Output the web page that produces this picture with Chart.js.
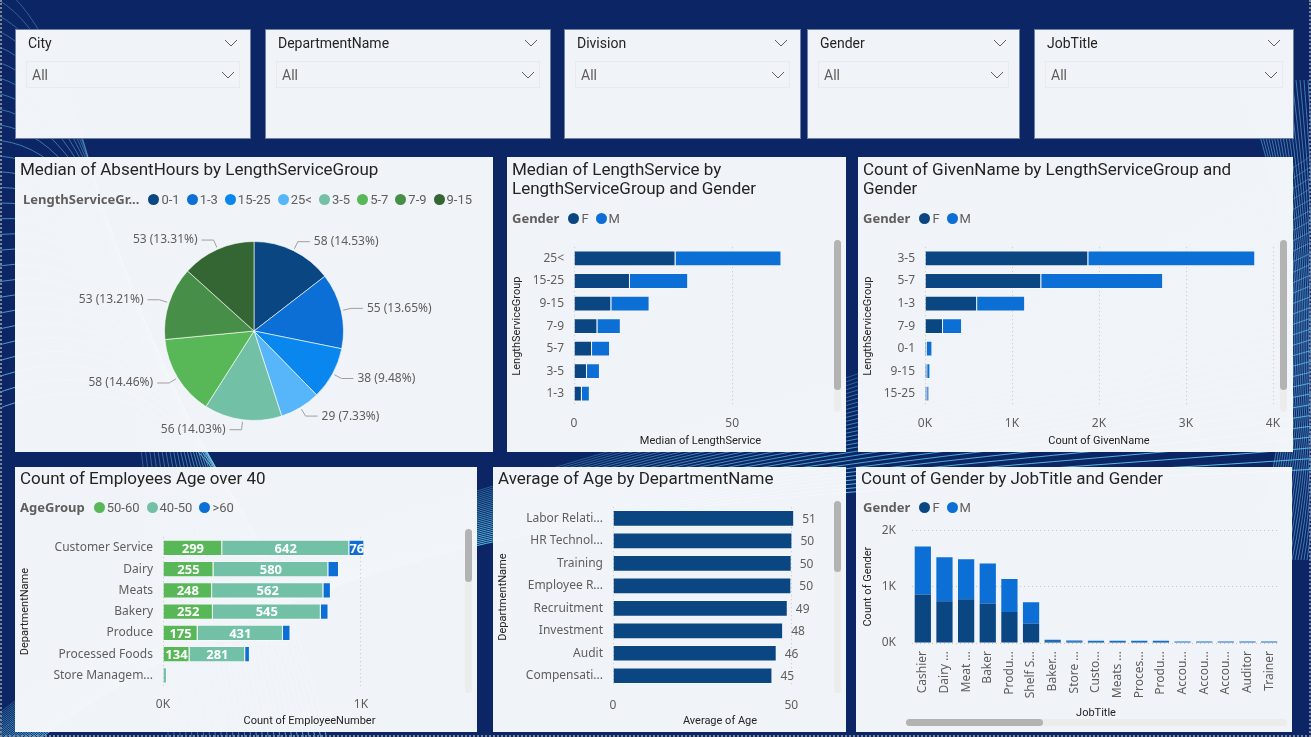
<!DOCTYPE html>
<html>
<head>
<meta charset="utf-8">
<title>HR Dashboard</title>
<script src="https://cdn.jsdelivr.net/npm/chart.js@4.4.1/dist/chart.umd.min.js"></script>
<style>
  body { margin: 0; width: 1311px; height: 737px; overflow: hidden; background: #0b2565; font-family: 'Segoe UI', 'Noto Sans', sans-serif; }
  #page { position: absolute; left: 0; top: 0; width: 1311px; height: 737px; }
  #frame { position: absolute; left: 0; top: 0; width: 1311px; height: 737px; box-sizing: border-box; pointer-events: none;
           border-left: 2px dotted #7d8596; border-right: 2px dotted #7d8596; border-bottom: 2px dotted #7d8596; }
  #bg { position: absolute; left: 0; top: 0; }
  .panel { position: absolute; background: rgba(248, 250, 252, 0.97); box-sizing: border-box; }
  .slicer { border: 1px solid #6f80a6; }
  .sl-t { position: absolute; left: 12px; top: 5px; font-family: Roboto, sans-serif; font-size: 14px; color: #252423; }
  .sl-box { position: absolute; left: 10px; right: 10px; top: 31px; height: 27px; border: 1px solid #e8eaed; box-sizing: border-box;
            font-family: Roboto, sans-serif; font-size: 14px; color: #605e5c; line-height: 26px; padding-left: 5px; }
  .chev { position: absolute; }
  .title { position: absolute; left: 5px; font-family: Roboto, sans-serif; font-size: 17px; color: #252423; line-height: 19px; white-space: nowrap; }
  .legend { position: absolute; font-size: 13px; color: #605e5c; display: flex; align-items: center; white-space: nowrap; height: 16px; font-family: Roboto, sans-serif; }
  .legend b { color: #605e5c; margin-right: 2px; font-family: 'Segoe UI', 'Noto Sans', sans-serif; }
  .legend i { display: inline-block; width: 11px; height: 11px; border-radius: 50%; margin: 0 2px 0 7px; }
  canvas.c { position: absolute; }
  .track { position: absolute; background: #ececec; border-radius: 4px; }
  .thumb { position: absolute; background: #b3b3b3; border-radius: 4px; }
</style>
</head>
<body>
<div id="page">
  <canvas id="bg" width="1311" height="737"></canvas>
</div>
<div id="frame"></div>
<script>
// ---- data ----
const lsGroups = ['0-1', '1-3', '15-25', '25<', '3-5', '5-7', '7-9', '9-15'];
const absentHours = [58.19, 54.67, 37.97, 29.36, 56.19, 57.91, 52.91, 53.31];

const medianGroups = ['25<', '15-25', '9-15', '7-9', '5-7', '3-5', '1-3'];
const medianF = [32.1, 17.7, 11.8, 7.4, 5.7, 4.1, 2.5];
const medianM = [33.5, 18.4, 12.1, 7.4, 5.7, 4.1, 2.5];
const medianTicks = [0, 50];

const countGroups = ['3-5', '5-7', '1-3', '7-9', '0-1', '9-15', '15-25'];
const countF = [1877, 1336, 599, 207, 20, 25, 25];
const countM = [1919, 1401, 552, 219, 65, 37, 25];
const countTicks = [0, 1000, 2000, 3000, 4000];

const departments40 = ['Customer Service', 'Dairy', 'Meats', 'Bakery', 'Produce', 'Processed Foods', 'Store Management'];
const age50to60 = [299, 255, 248, 252, 175, 134, 0];
const age40to50 = [642, 580, 562, 545, 431, 281, 20];
const ageOver60 = [76, 54, 38, 39, 38, 24, 0];
const employeeTicks = [0, 1000];

const ageDepartments = ['Labor Relations', 'HR Technology', 'Training', 'Employee Records', 'Recruitment', 'Investment', 'Audit', 'Compensation'];
const avgAge = [50.8, 50.3, 50.1, 50.0, 49.0, 47.7, 45.9, 44.7];
const avgAgeTicks = [0, 50];

const jobTitles = ['Cashier', 'Dairy Person', 'Meat Cutter', 'Baker', 'Produce Clerk', 'Shelf Stocker', 'Bakery Manager', 'Store Manager',
  'Customer Service Manager', 'Meats Manager', 'Processed Foods Manager', 'Produce Manager', 'Accounting Clerk',
  'Accounts Payable Clerk', 'Accounts Receivable Clerk', 'Auditor', 'Trainer'];
const jobF = [859, 740, 776, 699, 550, 344, 30, 20, 18, 18, 18, 18, 13, 13, 13, 13, 13];
const jobM = [852, 781, 710, 710, 586, 378, 26, 26, 22, 22, 22, 22, 15, 15, 15, 15, 15];
const genderTicks = [0, 1000, 2000];

// ---- look ----
const FONT = "'Segoe UI', 'Noto Sans', sans-serif";
const TFONT = "Roboto, sans-serif";
const pieColors = ['#0a4682', '#0c6fd6', '#0a87ef', '#57b5f9', '#72c0a5', '#58b858', '#478f48', '#336633'];
const colF = '#0a4682', colM = '#0c6fd6';
const col5060 = '#58b858', col4050 = '#72c0a5', col60 = '#0c6fd6';
const tickColor = '#605e5c';

Chart.defaults.font.family = FONT;
Chart.defaults.animation = false;
Chart.defaults.plugins.legend.display = false;
Chart.defaults.plugins.tooltip.enabled = false;

// ---- background decoration ----
const g = document.getElementById('bg').getContext('2d');
g.fillStyle = '#0b2565';
g.fillRect(0, 0, 1311, 737);
g.lineWidth = 1;
for (let i = 0; i < 28; i++) {
  g.strokeStyle = 'rgba(120, 205, 235, ' + (0.35 + i * 0.015) + ')';
  g.beginPath();
  g.moveTo(-10, -20 + i * 16);
  g.quadraticCurveTo(120 + i * 4, 40 + i * 10, 170 + i * 6, 760);
  g.stroke();
}
for (let i = 0; i < 30; i++) {
  g.strokeStyle = 'rgba(95, 200, 235, ' + (0.35 + i * 0.02) + ')';
  g.beginPath();
  g.moveTo(-10, 720 + i * 2);
  g.bezierCurveTo(350, 440 + i * 1.2, 850, 470 + i * 0.8, 1320, 150 + i * 11);
  g.stroke();
}
for (let i = 0; i < 22; i++) {
  g.strokeStyle = 'rgba(110, 190, 235, 0.55)';
  g.beginPath();
  g.moveTo(1240 + i * 4, 80);
  g.quadraticCurveTo(1330, 300 + i * 6, 1250 + i * 3, 560);
  g.stroke();
}

// ---- helpers ----
const page = document.getElementById('page');
const measure = document.createElement('canvas').getContext('2d');
// truncation is judged at the width of the original UI font
function fit(text, maxPx) {
  measure.font = '11.3px ' + FONT;
  if (measure.measureText(text).width <= maxPx) return text;
  let s = text;
  while (s.length > 1 && measure.measureText(s + '...').width > maxPx) s = s.slice(0, -1);
  return s + '...';
}
function el(tag, cls, style, html) {
  const e = document.createElement(tag);
  if (cls) e.className = cls;
  if (style) e.style.cssText = style;
  if (html) e.innerHTML = html;
  return e;
}
function chevron(style) {
  return '<svg class="chev" style="' + style + '" width="14" height="8"><polyline points="1,1 7,7 13,1" fill="none" stroke="#605e5c" stroke-width="1"/></svg>';
}
function panel(x, y, w, h) {
  const p = el('div', 'panel', 'left:' + x + 'px;top:' + y + 'px;width:' + w + 'px;height:' + h + 'px');
  page.appendChild(p);
  return p;
}
function legend(parent, x, y, title, names, colors) {
  let html = '<b>' + title + '</b>';
  names.forEach((n, i) => { html += '<i style="background:' + colors[i] + '"></i>' + n; });
  parent.appendChild(el('div', 'legend', 'left:' + x + 'px;top:' + (y - 8) + 'px', html));
}
function canvas(x, y, w, h) {
  const c = el('canvas', 'c', 'left:' + x + 'px;top:' + y + 'px');
  c.width = w; c.height = h;
  page.appendChild(c);
  return c;
}
function scrollV(x, y1, y2, t2) {
  page.appendChild(el('div', 'track', 'left:' + x + 'px;top:' + y1 + 'px;width:7px;height:' + (y2 - y1) + 'px'));
  page.appendChild(el('div', 'thumb', 'left:' + x + 'px;top:' + y1 + 'px;width:7px;height:' + (t2 - y1) + 'px'));
}
const tickFont = { size: 12, family: FONT };
const axisTitleFont = { size: 11, family: TFONT };
function valueAxis(opts) {
  return {
    stacked: true, min: 0, max: opts.max,
    grid: { color: '#c8c6c4', drawTicks: false },
    border: { display: false, dash: [1, 3] },
    ticks: { padding: opts.tickPad, color: tickColor, font: tickFont, callback: opts.fmt || (v => v) },
    afterBuildTicks: s => { s.ticks = opts.ticks.map(v => ({ value: v })); },
    title: { display: true, text: opts.title, color: '#252423', font: axisTitleFont, padding: opts.titlePad },
    afterFit: opts.fitFn
  };
}
function categoryAxis(opts) {
  return {
    stacked: true,
    grid: { display: false, drawTicks: false }, border: { display: false },
    ticks: { color: tickColor, font: tickFont, padding: opts.tickPad, autoSkip: false,
             minRotation: opts.rot || 0, maxRotation: opts.rot || 0,
             callback(v) { return fit(this.getLabelForValue(v), opts.maxPx); } },
    title: { display: true, text: opts.title, color: '#252423', font: axisTitleFont, padding: opts.titlePad },
    afterFit: opts.fitFn
  };
}
const kFmt = v => (v / 1000) + 'K';

// ---- slicers ----
const slicers = [['City', 15, 236], ['DepartmentName', 265, 286], ['Division', 564, 237], ['Gender', 807, 213], ['JobTitle', 1034, 260]];
slicers.forEach(([name, x, w]) => {
  const p = panel(x, 29, w, 110);
  p.classList.add('slicer');
  p.appendChild(el('div', 'sl-t', '', name));
  p.insertAdjacentHTML('beforeend', chevron('right:12px;top:9px'));
  p.appendChild(el('div', 'sl-box', '', 'All' + chevron('right:4px;top:9px')));
});

// ---- pie: Median of AbsentHours ----
const p1 = panel(15, 157, 478, 295);
p1.appendChild(el('div', 'title', 'top:3px', 'Median of AbsentHours by LengthServiceGroup'));
legend(p1, 8, 42, 'LengthServiceGr...', lsGroups, pieColors);

const pieLabels = {
  id: 'pieLabels',
  afterDatasetsDraw(chart) {
    const ctx = chart.ctx;
    const data = chart.data.datasets[0].data;
    const total = data.reduce((a, b) => a + b, 0);
    ctx.save();
    ctx.font = '12px ' + FONT;
    ctx.textBaseline = 'middle';
    chart.getDatasetMeta(0).data.forEach((arc, i) => {
      const mid = (arc.startAngle + arc.endAngle) / 2;
      const r = arc.outerRadius;
      const cx = Math.cos(mid), cy = Math.sin(mid);
      const x1 = arc.x + cx * (r + 2), y1 = arc.y + cy * (r + 2);
      const x2 = arc.x + cx * (r + 10), y2 = arc.y + cy * (r + 10);
      const right = cx >= 0;
      const x3 = x2 + (right ? 12 : -12);
      ctx.strokeStyle = '#a19f9d';
      ctx.lineWidth = 1;
      ctx.beginPath(); ctx.moveTo(x1, y1); ctx.lineTo(x2, y2); ctx.lineTo(x3, y2); ctx.stroke();
      ctx.fillStyle = tickColor;
      ctx.textAlign = right ? 'left' : 'right';
      const txt = Math.round(data[i]) + ' (' + (data[i] / total * 100).toFixed(2) + '%)';
      ctx.fillText(txt, x3 + (right ? 4 : -4), y2);
    });
    ctx.restore();
  }
};

new Chart(canvas(15, 215, 478, 232), {
  type: 'pie',
  data: { labels: lsGroups, datasets: [{ data: absentHours, backgroundColor: pieColors, borderColor: 'rgba(255,255,255,0.6)', borderWidth: 1 }] },
  options: { responsive: false, layout: { padding: { top: 26, bottom: 26 } } },
  plugins: [pieLabels]
});

// ---- Median of LengthService ----
const p2 = panel(507, 157, 339, 295);
p2.appendChild(el('div', 'title', 'top:3px', 'Median of LengthService by<br>LengthServiceGroup and Gender'));
legend(p2, 5, 61, 'Gender', ['F', 'M'], [colF, colM]);
new Chart(canvas(507, 230, 339, 222), {
  type: 'bar',
  data: {
    labels: medianGroups,
    datasets: [
      { label: 'F', data: medianF, backgroundColor: colF, borderColor: 'rgba(255,255,255,0.3)', borderWidth: 1, barPercentage: 0.7, categoryPercentage: 1 },
      { label: 'M', data: medianM, backgroundColor: colM, borderColor: 'rgba(255,255,255,0.3)', borderWidth: 1, barPercentage: 0.7, categoryPercentage: 1 }
    ]
  },
  options: {
    responsive: false, indexAxis: 'y',
    layout: { padding: { top: 15, right: 19, left: 0, bottom: 0 } },
    scales: {
      x: valueAxis({ max: 80, ticks: medianTicks, tickPad: 11, title: 'Median of LengthService', titlePad: { top: 0, bottom: 4 }, fitFn: s => { s.height = 47; } }),
      y: categoryAxis({ tickPad: 10, maxPx: 60, title: 'LengthServiceGroup', titlePad: { top: 4, bottom: 0 }, fitFn: s => { s.width = 67; } })
    }
  }
});
scrollV(834, 240, 412, 390);

// ---- Count of GivenName ----
const p3 = panel(858, 157, 435, 295);
p3.appendChild(el('div', 'title', 'top:3px', 'Count of GivenName by LengthServiceGroup and<br>Gender'));
legend(p3, 5, 61, 'Gender', ['F', 'M'], [colF, colM]);
new Chart(canvas(858, 230, 435, 222), {
  type: 'bar',
  data: {
    labels: countGroups,
    datasets: [
      { label: 'F', data: countF, backgroundColor: colF, borderColor: 'rgba(255,255,255,0.3)', borderWidth: 1, barPercentage: 0.7, categoryPercentage: 1 },
      { label: 'M', data: countM, backgroundColor: colM, borderColor: 'rgba(255,255,255,0.3)', borderWidth: 1, barPercentage: 0.7, categoryPercentage: 1 }
    ]
  },
  options: {
    responsive: false, indexAxis: 'y',
    layout: { padding: { top: 15, right: 20, left: 0, bottom: 0 } },
    scales: {
      x: valueAxis({ max: 4000, ticks: countTicks, tickPad: 11, fmt: kFmt, title: 'Count of GivenName', titlePad: { top: 0, bottom: 4 }, fitFn: s => { s.height = 47; } }),
      y: categoryAxis({ tickPad: 10, maxPx: 60, title: 'LengthServiceGroup', titlePad: { top: 4, bottom: 0 }, fitFn: s => { s.width = 67; } })
    }
  }
});
scrollV(1280, 240, 412, 390);

// ---- Count of Employees Age over 40 ----
const p4 = panel(15, 467, 462, 265);
p4.appendChild(el('div', 'title', 'top:2px', 'Count of Employees Age over 40'));
legend(p4, 5, 40, 'AgeGroup', ['50-60', '40-50', '&gt;60'], [col5060, col4050, col60]);
const insideLabels = {
  id: 'insideLabels',
  afterDatasetsDraw(chart) {
    const ctx = chart.ctx;
    ctx.save();
    ctx.font = 'bold 13px ' + FONT;
    ctx.fillStyle = '#ffffff';
    ctx.textAlign = 'center';
    ctx.textBaseline = 'middle';
    chart.data.datasets.forEach((ds, i) => {
      chart.getDatasetMeta(i).data.forEach((bar, j) => {
        const v = ds.data[j];
        if (!v) return;
        const txt = String(v);
        if (Math.abs(bar.x - bar.base) < ctx.measureText(txt).width - 3) return;
        ctx.fillText(txt, (bar.x + bar.base) / 2, bar.y + 1);
      });
    });
    ctx.restore();
  }
};
new Chart(canvas(15, 520, 462, 212), {
  type: 'bar',
  data: {
    labels: departments40,
    datasets: [
      { label: '50-60', data: age50to60, backgroundColor: col5060, borderColor: 'rgba(255,255,255,0.4)', borderWidth: 1, barPercentage: 0.76, categoryPercentage: 1 },
      { label: '40-50', data: age40to50, backgroundColor: col4050, borderColor: 'rgba(255,255,255,0.4)', borderWidth: 1, barPercentage: 0.76, categoryPercentage: 1 },
      { label: '>60', data: ageOver60, backgroundColor: col60, borderColor: 'rgba(255,255,255,0.4)', borderWidth: 1, barPercentage: 0.76, categoryPercentage: 1 }
    ]
  },
  options: {
    responsive: false, indexAxis: 'y',
    layout: { padding: { top: 15, right: 21, left: 0, bottom: 0 } },
    scales: {
      x: valueAxis({ max: 1480, ticks: employeeTicks, tickPad: 11, fmt: kFmt, title: 'Count of EmployeeNumber', titlePad: { top: 0, bottom: 4 }, fitFn: s => { s.height = 46; } }),
      y: categoryAxis({ tickPad: 10, maxPx: 97, title: 'DepartmentName', titlePad: { top: 4, bottom: 0 }, fitFn: s => { s.width = 148; } })
    }
  },
  plugins: [insideLabels]
});
scrollV(465, 529, 693, 582);

// ---- Average of Age by DepartmentName ----
const p5 = panel(493, 467, 353, 265);
p5.appendChild(el('div', 'title', 'top:2px', 'Average of Age by DepartmentName'));
const endLabels = {
  id: 'endLabels',
  afterDatasetsDraw(chart) {
    const ctx = chart.ctx;
    const ds = chart.data.datasets[0];
    ctx.save();
    ctx.font = '12px ' + FONT;
    ctx.fillStyle = tickColor;
    ctx.textAlign = 'left';
    ctx.textBaseline = 'middle';
    chart.getDatasetMeta(0).data.forEach((bar, j) => {
      ctx.fillText(String(Math.round(ds.data[j])), bar.x + 8, bar.y + 1);
    });
    ctx.restore();
  }
};
new Chart(canvas(493, 490, 353, 242), {
  type: 'bar',
  data: {
    labels: ageDepartments,
    datasets: [{ label: 'Average of Age', data: avgAge, backgroundColor: colF, borderColor: 'rgba(255,255,255,0.3)', borderWidth: 1, barPercentage: 0.74, categoryPercentage: 1 }]
  },
  options: {
    responsive: false, indexAxis: 'y',
    layout: { padding: { top: 16, right: 19, left: 0, bottom: 0 } },
    scales: {
      x: valueAxis({ max: 60, ticks: avgAgeTicks, tickPad: 11, title: 'Average of Age', titlePad: { top: 0, bottom: 4 }, fitFn: s => { s.height = 45; } }),
      y: categoryAxis({ tickPad: 10, maxPx: 73, title: 'DepartmentName', titlePad: { top: 4, bottom: 0 }, fitFn: s => { s.width = 120; } })
    }
  },
  plugins: [endLabels]
});
scrollV(834, 501, 693, 572);

// ---- Count of Gender by JobTitle ----
const p6 = panel(856, 467, 436, 265);
p6.appendChild(el('div', 'title', 'top:2px', 'Count of Gender by JobTitle and Gender'));
legend(p6, 7, 40, 'Gender', ['F', 'M'], [colF, colM]);
new Chart(canvas(856, 507, 436, 225), {
  type: 'bar',
  data: {
    labels: jobTitles,
    datasets: [
      { label: 'F', data: jobF, backgroundColor: colF, barPercentage: 0.75, categoryPercentage: 1 },
      { label: 'M', data: jobM, backgroundColor: colM, barPercentage: 0.75, categoryPercentage: 1 }
    ]
  },
  options: {
    responsive: false,
    layout: { padding: { top: 0, right: 12, left: 0, bottom: 0 } },
    scales: {
      y: valueAxis({ max: 2000, ticks: genderTicks, tickPad: 16, fmt: kFmt, title: 'Count of Gender', titlePad: { top: 6, bottom: 0 }, fitFn: s => { s.width = 56; } }),
      x: categoryAxis({ tickPad: 8, rot: 90, maxPx: 45, title: 'JobTitle', titlePad: { top: 0, bottom: 12 }, fitFn: s => { s.height = 89; } })
    }
  }
});
page.appendChild(el('div', 'track', 'left:906px;top:719px;width:381px;height:7px'));
page.appendChild(el('div', 'thumb', 'left:906px;top:719px;width:137px;height:7px'));
</script>
</body>
</html>
